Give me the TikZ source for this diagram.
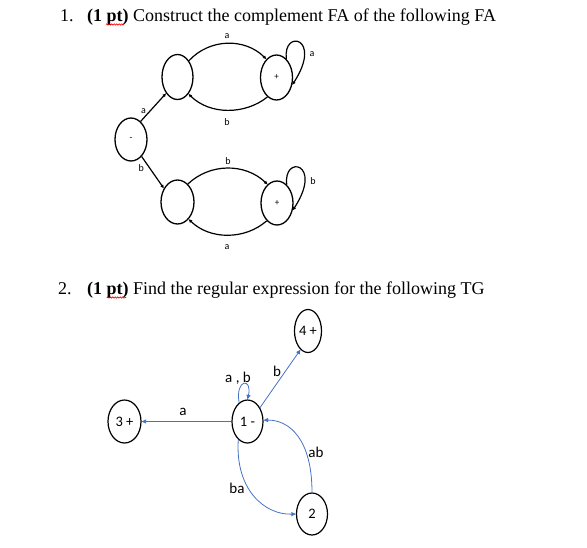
\documentclass[tikz,border=0pt]{standalone}
\usepackage{fontspec}
\setmainfont{Liberation Serif}
\newfontfamily\lab{Carlito}
\usetikzlibrary{shapes.geometric,arrows.meta,decorations.pathmorphing}
\definecolor{edgeblue}{HTML}{4472C4}
\begin{document}
\begin{tikzpicture}[x=1pt,y=-1pt,
  fastate/.style={draw,ellipse,line width=1.3pt,inner sep=0pt,minimum width=32pt,minimum height=44pt,font=\lab\fontsize{9}{10}\selectfont},
  tgstate/.style={draw,ellipse,line width=1.2pt,inner sep=0pt,minimum width=31pt,minimum height=43pt,font=\lab\fontsize{14.5}{16}\selectfont},
  faedge/.style={line width=1.2pt,-{Triangle[length=3.5pt,width=3pt]}},
  tgedge/.style={edgeblue,line width=0.8pt,-{Triangle[length=4.5pt,width=4pt]}},
  falab/.style={font=\lab\fontsize{10}{11}\selectfont,inner sep=0pt},
  tglab/.style={font=\lab\fontsize{15}{16}\selectfont,inner sep=0pt},
  title/.style={anchor=base west,inner sep=0pt,font=\fontsize{18}{21}\selectfont},
  squiggle/.style={red,line width=0.6pt,decorate,decoration={snake,amplitude=0.7pt,segment length=2.5pt}}]
\useasboundingbox (0,0) rectangle (587,547);

% titles
\node[title] (t1) at (60,21) {1.\hspace{13.5pt}\textbf{(1 pt)} Construct the complement FA of the following FA};
\node[title] (t2) at (58,294) {2.\hspace{15.5pt}\textbf{(1 pt)} Find the regular expression for the following TG};
\draw[squiggle] (106,24.5) -- (124,24.5);
\draw[squiggle] (107,297.5) -- (126,297.5);

% Part 1 states
\node[fastate,minimum height=43pt] (m) at (131,139.5) {-};
\node[fastate,minimum width=31pt,minimum height=45pt] (tl) at (177.5,77) {};
\node[fastate,minimum height=45pt] (tr) at (276.5,77.5) {+};
\node[fastate,minimum width=33pt] (bl) at (177.5,202) {};
\node[fastate] (br) at (277,203) {+};

% Part 1 edges
\draw[faedge] (m.62) -- (tl.-125) node[falab,pos=0.35,left=3pt] {a};
\draw[faedge] (m.-58) -- (bl.135) node[falab,pos=0.35,left=5pt] {b};
\draw[faedge] (tl.55) .. controls (210,38) and (245,38) .. (tr.119);
\node[falab] (la1) at (227,36) {a};
\draw[faedge] (tr.-115) .. controls (245,115) and (210,115) .. (tl.-57);
\node[falab] (lb1) at (227,122) {b};
\draw[faedge] (tr.62) .. controls +(-4,-30) and +(31,-48) .. (tr.-25);
\node[falab] (la2) at (312,54) {a};

\draw[faedge] (bl.60) .. controls (210,163) and (245,163) .. (br.117);
\node[falab] (lb2) at (228,161) {b};
\draw[faedge] (br.-120) .. controls (245,240) and (210,240) .. (bl.-57);
\node[falab] (la3) at (227,247) {a};
\draw[faedge] (br.62) .. controls +(-4,-30) and +(31,-48) .. (br.-25);
\node[falab] (lb3) at (313,181) {b};

% Part 2 states
\node[tgstate,minimum width=27pt] (n4) at (308,331) {4 +};
\node[tgstate] (n1) at (247.5,421.5) {1 -};
\node[tgstate,minimum width=33pt] (n3) at (124.5,421.5) {3 +};
\node[tgstate,minimum height=42pt] (n2) at (312,514) {2};

% Part 2 edges
\draw[tgedge] (n1.west) -- (n3.east);
\node[tglab] (l13) at (183,412) {a};
\draw[tgedge] (n1.48) -- (n4.-112);
\node[tglab] (l14) at (277,371) {b};
\draw[tgedge] (n1.114) .. controls +(-4,-24) and +(5,-22) .. (n1.90);
\node[tglab] (l11) at (238,378) {a , b};
\draw[tgedge] (n1.-117) .. controls (235,490) and (265,515) .. (n2.west);
\node[tglab] (l12) at (237,488) {ba};
\draw[tgedge] (n2.north) .. controls (312,440) and (290,420) .. (n1.5);
\node[tglab] (l21) at (316,452) {ab};
\end{tikzpicture}
\end{document}
